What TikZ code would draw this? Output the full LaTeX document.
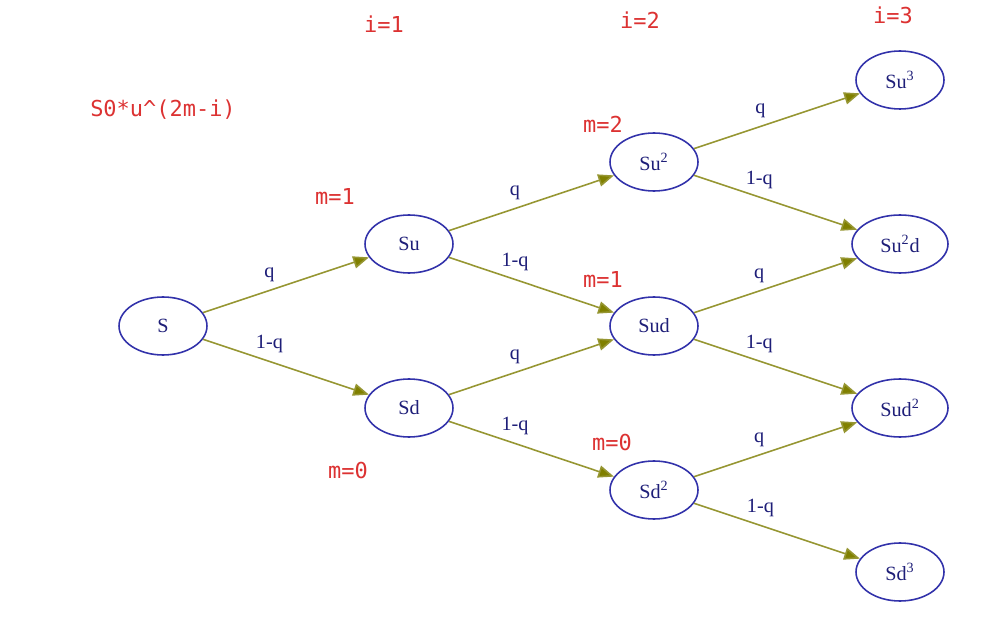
\documentclass[tikz,border=0pt]{standalone}
\usepackage{fontspec}
\setmainfont{Liberation Serif}
\newfontfamily\redmono{DejaVu Sans Mono}
\usetikzlibrary{shapes.geometric,arrows.meta}
\definecolor{navyline}{RGB}{50,50,170}
\definecolor{navytext}{RGB}{30,30,120}
\definecolor{olive1}{RGB}{150,150,50}
\definecolor{olive2}{RGB}{128,128,0}
\definecolor{redlab}{RGB}{220,50,50}
\tikzset{
  st/.style={ellipse,draw=navyline,line width=0.9pt,minimum width=1.76cm,minimum height=1.16cm,inner sep=0pt,text=navytext,font=\fontsize{11.5}{13}\selectfont},
  stw/.style={st,minimum width=1.92cm},
  ed/.style={draw=olive1,line width=0.9pt,-{Triangle[length=9pt,width=7pt,fill=olive2]}},
  el/.style={pos=0.4,above=1pt,text=navytext,font=\fontsize{11.5}{13}\selectfont},
  rl/.style={text=redlab,font=\redmono\fontsize{12.5}{14}\selectfont}
}
\begin{document}
\begin{tikzpicture}[x=0.02cm,y=-0.02cm]
\useasboundingbox (0,0) rectangle (981,618);
\node[st] (S) at (163,326) {S};
\node[st] (Su) at (409,244) {Su};
\node[st] (Sd) at (409,408) {Sd};
\node[st] (Su2) at (654,162) {Su\textsuperscript{2}};
\node[st] (Sud) at (654,326) {Sud};
\node[st] (Sd2) at (654,490) {Sd\textsuperscript{2}};
\node[st] (Su3) at (900,80) {Su\textsuperscript{3}};
\node[stw] (Su2d) at (900,244) {Su\textsuperscript{2}d};
\node[stw] (Sud2) at (900,408) {Sud\textsuperscript{2}};
\node[st] (Sd3) at (900,572) {Sd\textsuperscript{3}};
\draw[ed] (S) -- node[el]{q} (Su);
\draw[ed] (S) -- node[el]{1-q} (Sd);
\draw[ed] (Su) -- node[el]{q} (Su2);
\draw[ed] (Su) -- node[el]{1-q} (Sud);
\draw[ed] (Sd) -- node[el]{q} (Sud);
\draw[ed] (Sd) -- node[el]{1-q} (Sd2);
\draw[ed] (Su2) -- node[el]{q} (Su3);
\draw[ed] (Su2) -- node[el]{1-q} (Su2d);
\draw[ed] (Sud) -- node[el]{q} (Su2d);
\draw[ed] (Sud) -- node[el]{1-q} (Sud2);
\draw[ed] (Sd2) -- node[el]{q} (Sud2);
\draw[ed] (Sd2) -- node[el]{1-q} (Sd3);
\node[rl] (i1) at (384,24) {i=1};
\node[rl] (i2) at (640,20) {i=2};
\node[rl] (i3) at (893,15) {i=3};
\node[rl] (f) at (163,110) {S0*u\string^(2m-i)};
\node[rl] (m1a) at (335,196) {m=1};
\node[rl] (m0a) at (348,471) {m=0};
\node[rl] (m2) at (603,124) {m=2};
\node[rl] (m1b) at (603,279) {m=1};
\node[rl] (m0b) at (612,443) {m=0};
\end{tikzpicture}
\end{document}
